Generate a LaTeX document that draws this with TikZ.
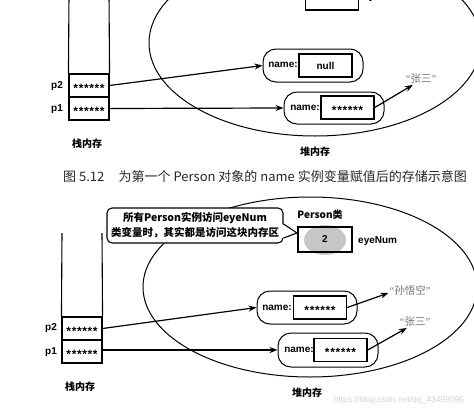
\documentclass[tikz,border=0pt]{standalone}
\usepackage{fontspec}
\setmainfont{Liberation Sans}
\newfontfamily\cjk{Noto Sans CJK SC}
\newfontfamily\qserif{Liberation Serif}
\usetikzlibrary{arrows.meta,calc}
\newcommand\stars{{\fontsize{12}{12}\selectfont\smash{\raisebox{-6.8pt}{*\kern0.6pt*\kern0.6pt*\kern0.6pt*\kern0.6pt*\kern0.6pt*}}}}
\newcommand\zq[1]{{\qserif“}#1{\qserif”}}
\tikzset{
  lbl/.style={font=\fontsize{10}{12}\selectfont\bfseries, inner sep=0pt},
  zh/.style={font=\fontsize{10}{12}\selectfont\cjk\bfseries, inner sep=0pt},
  cell/.style={draw, line width=1.1pt, minimum width=40pt, minimum height=23pt, inner sep=0pt, font=\fontsize{10}{12}\selectfont\bfseries},
  stackline/.style={line width=1.1pt},
  pill/.style={draw, line width=1pt, rounded corners=13pt, minimum width=100pt, minimum height=33pt, inner sep=0pt},
  ibox/.style={draw, line width=1.4pt, minimum width=53pt, minimum height=23pt, inner sep=0pt, font=\fontsize{10}{12}\selectfont\bfseries},
  arr/.style={line width=1.2pt, -{Stealth[length=8pt,width=6pt]}},
  strnode/.style={text=black!55, font=\fontsize{10.5}{12}\selectfont\cjk, inner sep=1pt},
  heap/.style={line width=1pt},
  callbox/.style={draw, fill=white, line width=1.1pt, rounded corners=5pt, minimum width=176pt, minimum height=35pt, inner sep=0pt, align=center, font=\fontsize{10.5}{15}\selectfont\cjk\bfseries},
}
\begin{document}
\begin{tikzpicture}[x=1pt,y=-1pt]
\useasboundingbox (0,0) rectangle (474,410);
\clip (0,0) rectangle (474,410);

% ---------- top panel ----------
\draw[heap] (315,43) ellipse [x radius=166, y radius=93];
\node[ibox, minimum height=25pt] (etop) at (332,-2.5) {2};
\node[lbl, anchor=west] (enum1) at (363,-2.5) {eyeNum};

\node[cell] (s2a) at (89,85.5) {\stars};
\node[cell] (s1a) at (89,108.5) {\stars};
\draw[stackline] (69,-5) -- (s2a.north west);
\draw[stackline] (109,-5) -- (s2a.north east);
\node[lbl] (lp2a) at (57,86) {p2};
\node[lbl] (lp1a) at (57,109) {p1};

\node[pill] (o1) at (313,65.5) {};
\node[lbl] (n1) at (283,65) {name:};
\node[ibox] (b1) at (325.5,65.5) {null};

\node[pill, minimum height=32pt] (o2) at (334,108) {};
\node[lbl] (n2) at (305,108) {name:};
\node[ibox] (b2) at (347.5,107.5) {\stars};

\node[strnode] (z1) at (421,79) {\zq{张三}};

\draw[arr] (s2a.east) -- (o1.west);
\draw[arr] (s1a.east) -- (o2.west);
\draw[arr] (b2.east) -- ($(z1.south west)!0.25!(z1.south east)$);

\node[zh] (stk1) at (87,144) {栈内存};
\node[zh] (hp1) at (315,152) {堆内存};

\node[font=\fontsize{13}{15}\selectfont\cjk, text=black!85, inner sep=0pt] (cap) at (265,177)
  {图 5.12\hspace{1.1em}为第一个 Person 对象的 name 实例变量赋值后的存储示意图};

% ---------- bottom panel ----------
\draw[heap] (310,287) ellipse [x radius=167, y radius=90];

\node[callbox] (cal) at (195,225.5) {所有Person实例访问eyeNum\\类变量时，其实都是访问这块内存区};
\coordinate (tip) at (297,233);
\fill[white] ($(cal.east)+(-1.5,-1.5)$) -- (tip) -- ($(cal.east)+(-1.5,12.5)$) -- cycle;
\draw[line width=1.1pt] ($(cal.east)+(0,-1.5)$) -- (tip) -- ($(cal.east)+(0,12.5)$);

\node[zh] (pcls) at (320,215) {Person类};
\fill[gray!45] (325,240) ellipse [x radius=21, y radius=15];
\node[ibox, minimum width=54pt, minimum height=25pt] (ebot) at (325,239.5) {2};
\node[lbl, anchor=west] (enum2) at (358,241) {eyeNum};

\node[cell] (s2b) at (82,328.5) {\stars};
\node[cell] (s1b) at (82,351.5) {\stars};
\draw[stackline] (62,233) -- (s2b.north west);
\draw[stackline] (102,233) -- (s2b.north east);
\node[lbl] (lp2b) at (51,328) {p2};
\node[lbl] (lp1b) at (51,352) {p1};

\node[pill] (o3) at (307,307.5) {};
\node[lbl] (n3) at (277,307.5) {name:};
\node[ibox] (b3) at (320,307.5) {\stars};

\node[pill, minimum height=34pt] (o4) at (328,350) {};
\node[lbl] (n4) at (299,350) {name:};
\node[ibox] (b4) at (340.5,350) {\stars};

\node[strnode] (z2) at (410,290) {\zq{孙悟空}};
\node[strnode] (z3) at (415,322) {\zq{张三}};

\draw[arr] (s2b.east) -- (o3.west);
\draw[arr] (s1b.east |- o4.west) -- (o4.west);
\draw[arr] (b3.east) -- ($(z2.west)!0.5!(z2.south west)$);
\draw[arr] (b4.east) -- ($(z3.south west)!0.25!(z3.south east)$);

\node[zh] (stk2) at (80,387) {栈内存};
\node[zh] (hp2) at (307,393) {堆内存};

\node[font=\fontsize{8.5}{10}\selectfont, text=black!18, inner sep=0pt] (wm) at (399,400) {https://blog.csdn.net/qq\_43499096};
\end{tikzpicture}
\end{document}
